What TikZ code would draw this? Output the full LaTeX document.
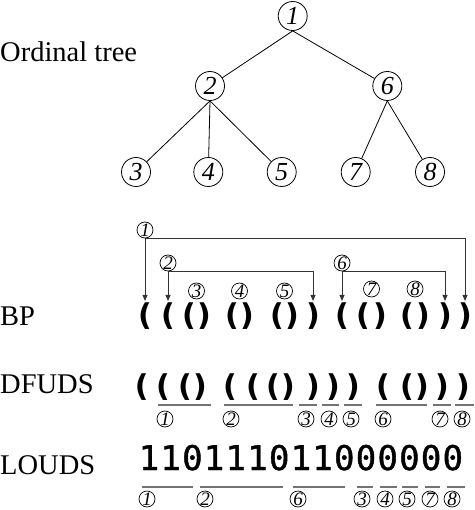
\documentclass[tikz,border=0pt]{standalone}
\usepackage{fontspec}
\setmainfont{Liberation Serif}
\newfontfamily\parfont{DejaVu Sans}
\newfontfamily\bitfont[FakeBold=1.2]{DejaVu Sans Mono}
\usetikzlibrary{arrows.meta}
\begin{document}
\begin{tikzpicture}[x=1pt,y=-1pt,
  lbl/.style={inner sep=0pt, anchor=base west, font=\fontsize{28.5}{30}\selectfont},
  tnode/.style={circle, draw, line width=0.8pt, minimum size=29pt, inner sep=0pt, font=\fontsize{26}{26}\selectfont\itshape},
  snode/.style={circle, draw, line width=0.7pt, minimum size=16pt, inner sep=0pt, font=\fontsize{19}{19}\selectfont\itshape},
  paren/.style={inner sep=0pt, font=\fontsize{30}{30}\selectfont\parfont\bfseries},
  bit/.style={inner sep=0pt, anchor=base, font=\fontsize{34}{34}\selectfont\bitfont},
  tedge/.style={line width=0.8pt},
  conn/.style={line width=0.9pt, draw=black!80, shorten >=2pt, -{Triangle[length=6pt,width=5pt]}},
  uline/.style={line width=1.2pt, draw=black!55}]
\useasboundingbox (0,0) rectangle (474,510);

% labels
\node[lbl] (lt) at (0,62) {Ordinal tree};
\node[lbl] (lbp) at (0,325) {BP};
\node[lbl] (ldf) at (0,393) {DFUDS};
\node[lbl] (llo) at (0,474) {LOUDS};

% tree
\node[tnode] (n1) at (292.7,16) {1};
\node[tnode] (n2) at (210,86) {2};
\node[tnode] (n6) at (387.3,86) {6};
\node[tnode] (n3) at (136,172) {3};
\node[tnode] (n4) at (208.3,172) {4};
\node[tnode] (n5) at (281.7,172) {5};
\node[tnode] (n7) at (355.7,172) {7};
\node[tnode] (n8) at (430,172) {8};
\draw[tedge] (n1.south) -- (n2);
\draw[tedge] (n1.south) -- (n6);
\draw[tedge] (n2.south) -- (n3);
\draw[tedge] (n2.south) -- (n4);
\draw[tedge] (n2.south) -- (n5);
\draw[tedge] (n6.south) -- (n7);
\draw[tedge] (n6.south) -- (n8);

% BP
\foreach \i/\x/\t in {1/145/o,2/168/o,3/189/o,4/204/c,5/232/o,6/247/c,7/277/o,8/292/c,
  9/313/c,10/342/o,11/363/o,12/380/c,13/407/o,14/423/c,15/445/c,16/465/c}
  \node[paren] (bp\i) at (\x,316.5) {\if o\t(\else)\fi};
\node[snode] (b1) at (145,230) {1};
\node[snode] (b2) at (168,263) {2};
\node[snode] (b6) at (342,263) {6};
\node[snode] (b3) at (196.5,291) {3};
\node[snode] (b4) at (239.5,291) {4};
\node[snode] (b5) at (284.5,291) {5};
\node[snode] (b7) at (371.5,289) {7};
\node[snode] (b8) at (415,289) {8};
\draw[conn] (b1.south) -- (bp1.north);
\draw[conn] (b1.south) -| (bp16.north);
\draw[conn] (b2.south) -- (bp2.north);
\draw[conn] (b2.south) -| (bp9.north);
\draw[conn] (b6.south) -- (bp10.north);
\draw[conn] (b6.south) -| (bp15.north);

% DFUDS
\foreach \i/\x/\t in {1/141.7/o,2/163/o,3/185/o,4/200/c,5/230/o,6/253/o,7/273/o,8/288/c,
  9/313/c,10/333/c,11/353/c,12/383/o,13/407/o,14/422/c,15/442/c,16/463/c}
  \node[paren] (df\i) at (\x,387.5) {\if o\t(\else)\fi};
\foreach \n/\a/\b in {1/158/211,2/224/293,3/299/317,4/322/339,5/344/362,6/376/427,7/433/451,8/455/474}
{
  \draw[uline] (\a,405) -- (\b,405);
  \node[snode] (dc\n) at (\a+7,419) {\n};
}

% LOUDS
\foreach \d [count=\i] in {1,1,0,1,1,1,0,1,1,0,0,0,0,0,0}
  \node[bit] (lb\i) at ({149+21.7*(\i-1)},470) {\d};
\foreach \n/\a/\b in {1/142/193,2/200/283,6/293/345,3/357/373,4/380/397,5/402/418,7/425/440,8/447/465}
{
  \draw[uline] (\a,487) -- (\b,487);
  \node[snode] (lc\n) at (\a+5,499) {\n};
}
\end{tikzpicture}
\end{document}
